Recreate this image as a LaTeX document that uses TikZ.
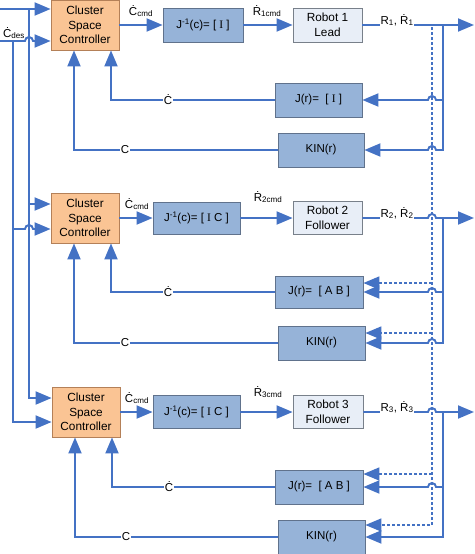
\documentclass[tikz,border=0pt]{standalone}
\usepackage{fontspec}
\setmainfont{Liberation Sans}
\newfontfamily\serifI{Liberation Serif}
\usetikzlibrary{arrows.meta,calc}
\definecolor{flowblue}{RGB}{68,114,196}
\definecolor{cscfill}{RGB}{250,196,148}
\definecolor{cscdraw}{RGB}{180,128,88}
\definecolor{jfill}{RGB}{150,179,216}
\definecolor{jdraw}{RGB}{96,114,140}
\definecolor{robfill}{RGB}{232,238,247}
\definecolor{robdraw}{RGB}{120,128,138}
\newcommand\Id{{\serifI I}}
\newcommand\hopr{arc[start angle=180,end angle=0,radius=4pt]}
\newcommand\hopl{arc[start angle=0,end angle=180,radius=4pt]}
\begin{document}
\begin{tikzpicture}[x=1pt,y=-1pt,>={Triangle[length=16pt,width=13pt]},
		flow/.style={flowblue,line width=1.9pt},
		meas/.style={flowblue,line width=1.6pt,dash pattern=on 3pt off 2pt},
		csc/.style={draw=cscdraw,fill=cscfill,line width=.8pt,minimum width=68pt,minimum height=50pt,align=center,inner sep=0pt,font=\fontsize{11.8}{14.5}\selectfont},
		blk/.style={draw=jdraw,fill=jfill,line width=.8pt,minimum height=34pt,inner sep=0pt,font=\fontsize{11.5}{13}\selectfont},
		rob/.style={draw=robdraw,fill=robfill,line width=.8pt,minimum width=69pt,minimum height=34pt,align=center,inner sep=0pt,font=\fontsize{11.8}{15}\selectfont},
		sig/.style={inner sep=1pt,font=\fontsize{11.5}{13}\selectfont},
		onl/.style={sig,fill=white}]
	\clip (0,0) rectangle (474,554);
	% robot 1
	\node[csc] (csc1) at (85,25) {Cluster\\Space\\Controller};
	\node[blk,minimum width=80pt] (inv1) at (203,25) {J\textsuperscript{-1}(c)= [ \Id\ ]};
	\node[rob] (rob1) at (327.5,25) {Robot 1\\Lead};
	\node[blk,minimum width=87pt] (jac1) at (318.5,100) {J(r)= \ [ \Id\ ]};
	\node[blk,minimum width=86pt] (kin1) at (321,150) {KIN(r)};
	% robot 2
	\node[csc] (csc2) at (85,218) {Cluster\\Space\\Controller};
	\node[blk,minimum width=87pt,minimum height=32pt] (inv2) at (196.5,218) {J\textsuperscript{-1}(c)= [ \Id\ C ]};
	\node[rob,minimum height=33pt] (rob2) at (327.5,218) {Robot 2\\Follower};
	\node[blk,minimum width=88pt,minimum height=32pt] (jac2) at (319,292) {J(r)= \ [ A B ]};
	\node[blk,minimum width=87pt] (kin2) at (321.5,343) {KIN(r)};
	% robot 3
	\node[csc] (csc3) at (86,412) {Cluster\\Space\\Controller};
	\node[blk,minimum width=87pt,minimum height=33pt] (inv3) at (196.5,412) {J\textsuperscript{-1}(c)= [ \Id\ C ]};
	\node[rob,minimum width=70pt,minimum height=33pt] (rob3) at (328,412) {Robot 3\\Follower};
	\node[blk,minimum width=88pt] (jac3) at (319,487) {J(r)= \ [ A B ]};
	\node[blk,minimum width=87pt] (kin3) at (321.5,537) {KIN(r)};

	\coordinate (topin) at (0,9);
	\coordinate (desin) at (0,41);
	\coordinate (vA) at (29,9);
	\coordinate (vB) at (13,41);
	\coordinate (dv) at (432,27);
	\coordinate (a2) at ($(csc2.west)+(0,-14)$);
	\coordinate (b2) at ($(csc2.west)+(0,11)$);
	\coordinate (a3) at ($(csc3.west)+(0,-14)$);
	\coordinate (b3) at ($(csc3.west)+(0,10)$);
	\coordinate (jd2) at ($(jac2.east)+(0,-9)$);
	\coordinate (kd2) at ($(kin2.east)+(0,-10)$);
	\coordinate (jd3) at ($(jac3.east)+(0,-13)$);
	\coordinate (kd3) at ($(kin3.east)+(0,-12)$);
	\coordinate (bus1) at (443,25);
	\coordinate (bus2) at (443,218);
	\coordinate (bus3) at (443,412);
	\coordinate (out1) at (474,25);
	\coordinate (out2) at (474,218);
	\coordinate (out3) at (474,412);

	% desired inputs
	\draw[flow,->] (topin) -- (topin -| csc1.west);
	\draw[flow,->] (desin) -- ++(25,0) \hopr -- (desin -| csc1.west);
	\draw[flow,->] (vA) |- (a3);
	\draw[flow,->] (a2 -| vA) -- (a2);
	\draw[flow,->] (vB) |- (b3);
	\draw[flow,->] (b2 -| vB) -- ++(12,0) \hopr -- (b2);
	\node[sig] (cdes) at (14,33) {\.{C}\textsubscript{des}};

	% measured states (dashed)
	\draw[meas,->] (dv) |- (kd3);
	\draw[meas,->] (jd2 -| dv) -- (jd2);
	\draw[meas,->] (kd2 -| dv) -- (kd2);
	\draw[meas,->] (jd3 -| dv) -- (jd3);

	% forward paths
	\draw[flow,->] (csc1) -- (inv1);
	\draw[flow,->] (inv1) -- (rob1);
	\draw[flow,->] (rob1) -- (out1);
	\draw[flow,->] (csc2) -- (inv2);
	\draw[flow,->] (inv2) -- (rob2);
	\draw[flow,->] (rob2) -- ($(rob2 -| dv)+(-4,0)$) \hopr -- (out2);
	\draw[flow,->] (csc3) -- (inv3);
	\draw[flow,->] (inv3) -- (rob3);
	\draw[flow,->] (rob3) -- ($(rob3 -| dv)+(-4,0)$) \hopr -- (out3);

	% feedback
	\draw[flow,->] (bus1 |- jac1) -- ++(-7,0) \hopl -- (jac1);
	\draw[flow,->] (bus1) -- (bus1 |- kin1) -- ++(-7,0) \hopl -- (kin1);
	\draw[flow,->] (bus2 |- jac2) -- ++(-7,0) \hopl -- (jac2);
	\draw[flow,->] (bus2) -- (bus2 |- kin2) -- ++(-7,0) \hopl -- (kin2);
	\draw[flow,->] (bus3 |- jac3) -- ++(-7,0) \hopl -- (jac3);
	\draw[flow,->] (bus3) |- (kin3);
	\draw[flow,->] (jac1.west) -| ([xshift=26pt]csc1.south);
	\draw[flow,->] (kin1.west) -| ([xshift=-11pt]csc1.south);
	\draw[flow,->] (jac2.west) -| ([xshift=26pt]csc2.south);
	\draw[flow,->] (kin2.west) -| ([xshift=-11pt]csc2.south);
	\draw[flow,->] (jac3.west) -| ([xshift=26pt]csc3.south);
	\draw[flow,->] (kin3.west) -| ([xshift=-11pt]csc3.south);

	% signal labels
	\node[sig] (ccmd1) at (141,11) {\.{C}\textsubscript{cmd}};
	\node[sig] (rcmd1) at (267,11) {\.{R}\textsubscript{1cmd}};
	\node[onl] (r1) at (397,20) {R\textsubscript{1}, \.{R}\textsubscript{1}};
	\node[onl] (cd1) at (168,100) {\.{C}};
	\node[onl] (c1) at (125,150) {C};
	\node[sig] (ccmd2) at (137,204) {\.{C}\textsubscript{cmd}};
	\node[sig] (rcmd2) at (268,197) {\.{R}\textsubscript{2cmd}};
	\node[onl] (r2) at (397,213) {R\textsubscript{2}, \.{R}\textsubscript{2}};
	\node[onl] (cd2) at (168,292) {\.{C}};
	\node[onl] (c2) at (125,343) {C};
	\node[sig] (ccmd3) at (137,398) {\.{C}\textsubscript{cmd}};
	\node[sig] (rcmd3) at (268,392) {\.{R}\textsubscript{3cmd}};
	\node[onl] (r3) at (397,407) {R\textsubscript{3}, \.{R}\textsubscript{3}};
	\node[onl] (cd3) at (169,487) {\.{C}};
	\node[onl] (c3) at (126,537) {C};
\end{tikzpicture}
\end{document}
